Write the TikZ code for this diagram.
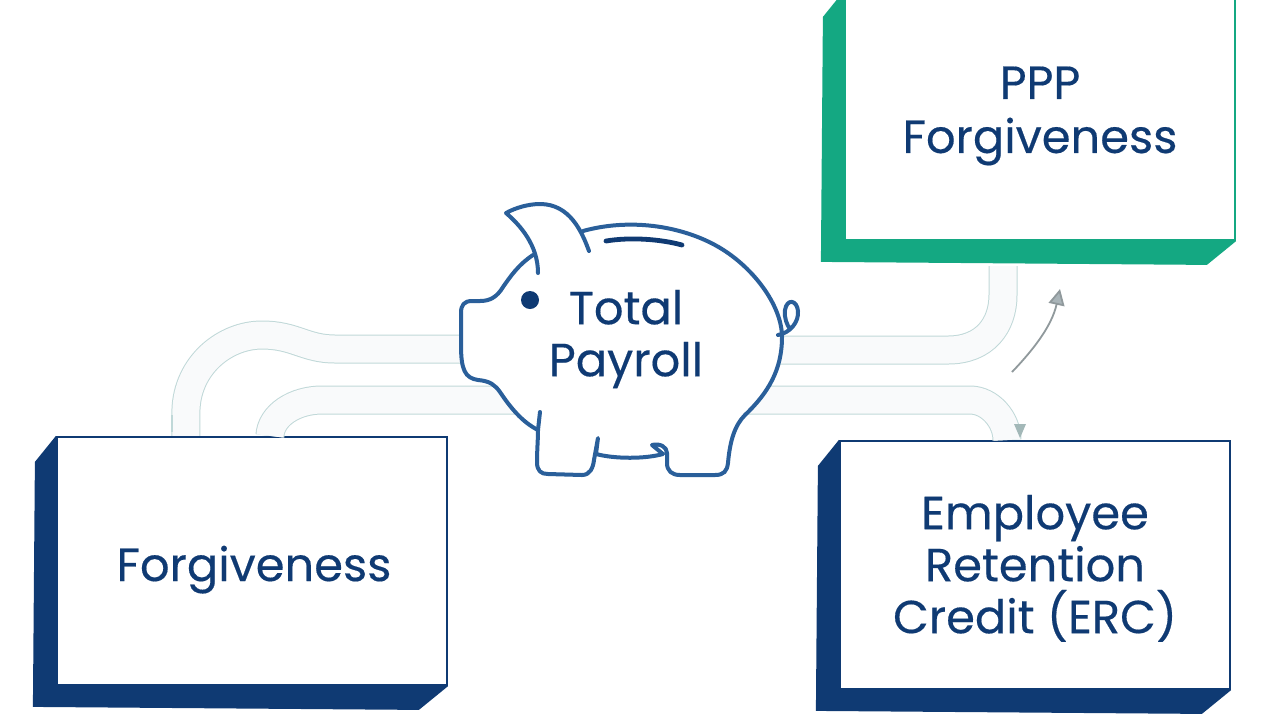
\documentclass[tikz,border=0pt]{standalone}
\usepackage{fontspec}
\setmainfont{Poppins}
\newfontfamily\labelfont[FakeBold=0.35]{Poppins}
\usetikzlibrary{arrows.meta}
\definecolor{navyblue}{HTML}{0F3A73}
\definecolor{sharegreen}{HTML}{14A882}
\definecolor{pigblue}{HTML}{2A5F9A}
\definecolor{pipeedge}{HTML}{C0D8D8}
\definecolor{pipefill}{HTML}{F9FAFB}
\definecolor{arrowgrey}{HTML}{A9B4B8}
\newlength{\pxunit}
\setlength{\pxunit}{0.5pt}
\newlength{\boxwidth}
\setlength{\boxwidth}{195pt}
\newlength{\boxheight}
\setlength{\boxheight}{124pt}
\newcommand\boxshade[2]
{
    \fill[#2] (#1.north west) -- ++(-21,26) -- ++(-2,245) -- ++(386,3) -- (#1.south east) -- (#1.south west) -- cycle;
}
\tikzset{
  sharebox/.style={draw=#1, fill=white, line width=1.1pt, text=navyblue, align=center,
       minimum width=\boxwidth, minimum height=\boxheight, inner sep=0pt,
       font=\labelfont\fontsize{23.2}{26}\selectfont},
  pipe/.style={draw=pipeedge, double=pipefill, line width=0.5pt, double distance=13.5pt},
  pigline/.style={draw=pigblue, line width=2pt, line cap=round, line join=round}
}
\begin{document}
\begin{tikzpicture}[x=\pxunit,y=-\pxunit]
  \useasboundingbox (0,0) rectangle (1280,720);
  % the three boxes
  \node[sharebox=navyblue] (forgiveness) at (252,561) {\raisebox{-10pt}[0pt][0pt]{\hspace*{2pt}Forgiveness}};
  \boxshade{forgiveness}{navyblue}
  \node[sharebox=sharegreen] (ppp) at (1040,116) {PPP\\[1pt]Forgiveness};
  \boxshade{ppp}{sharegreen}
  \node[sharebox=navyblue] (erc) at (1035,565) {\rule{0pt}{20.5pt}Employee\\Retention\\Credit (ERC)};
  \boxshade{erc}{navyblue}
  % free ends behind the pig
  \coordinate (pigwestup) at (500,349);
  \coordinate (pigwestdown) at (540,400);
  \coordinate (pigeastup) at (760,350);
  \coordinate (pigeastdown) at (740,400);
  % pipes
  \draw[pipe] (forgiveness.north west) ++(130,0) -- ++(0,-25)
      .. controls (187,365) and (225,335) .. (262,335)
      .. controls (295,335) and (305,349) .. (335,349) -- (pigwestup);
  \draw[pipe] (forgiveness.north west) ++(214,0)
      .. controls (271,415) and (295,400) .. (322,400) -- (pigwestdown);
  \draw[pipe] (pigeastup) -- (948,350)
      .. controls (985,350) and (1003,325) .. (1003,295) -- (1003,266);
  \draw[pipe] (pigeastdown) -- (970,400)
      .. controls (990,400) and (1007,420) .. (1007,440);
  % arrow tips
  \coordinate (erctip) at (1020,438);
  \fill[pipeedge!85!black] (erctip) -- ++(-6,-14) -- ++(12,0) -- cycle;
  \coordinate (forgivenesstip) at (172,432);
  \draw[pipeedge, line width=1pt] (forgivenesstip) -- ++(0,-17);
  \coordinate (trendstart) at (1012,372);
  \coordinate (trendend) at (1060,289);
  \draw[arrowgrey!85!black, line width=0.9pt, -{Triangle[length=8pt,width=8pt,fill=arrowgrey]}]
      (trendstart) .. controls (1035,348) and (1052,325) .. (trendend);
  % pig
  \draw[pigline, fill=white] (533,255) .. controls (518,265) and (510,277) .. (503,287)
      .. controls (497,297) and (490,301) .. (480,301) -- (472,301)
      .. controls (464,301) and (461,305) .. (461,313) -- (461,345)
      .. controls (461,370) and (465,378) .. (478,380)
      .. controls (490,381) and (495,385) .. (500,392)
      .. controls (510,407) and (522,422) .. (538,430)
      .. controls (538,440) and (537,450) .. (537,462)
      .. controls (537,471) and (541,474) .. (548,474) -- (582,475)
      .. controls (590,475) and (593,468) .. (594,460) -- (598,438) -- (596,454)
      .. controls (615,459) and (645,459) .. (663,454) -- (652,445)
      .. controls (660,443) and (667,447) .. (667,453) -- (667,463)
      .. controls (667,471) and (672,475) .. (680,475) -- (715,475)
      .. controls (724,475) and (727,471) .. (728,463)
      .. controls (730,440) and (735,425) .. (745,415)
      .. controls (768,393) and (782,370) .. (782,337)
      .. controls (782,305) and (752,265) .. (715,245)
      .. controls (680,226) and (630,218) .. (583,231);
  \draw[pigline] (540,412) -- (538,430);
  \draw[pigline] (778,335) .. controls (790,333) and (799,322) .. (798,311)
      .. controls (797,300) and (787,298) .. (785,310)
      .. controls (784,318) and (787,325) .. (790,329);
  \draw[pigline, fill=white] (589,251) .. controls (582,232) and (570,204) .. (540,204)
      .. controls (528,204) and (515,208) .. (506,213)
      .. controls (520,225) and (538,245) .. (538,273);
  \draw[pigline, draw=navyblue, line width=2.4pt] (606,241) .. controls (630,237) and (660,239) .. (682,245);
  \node[circle, fill=navyblue, inner sep=0pt, minimum size=9pt] (pigeye) at (530,300) {};
  \node[text=navyblue, align=center, inner sep=0pt, font=\labelfont\fontsize{23.2}{26}\selectfont] (totalpayroll) at (626,339) {Total\\Payroll};
\end{tikzpicture}
\end{document}
